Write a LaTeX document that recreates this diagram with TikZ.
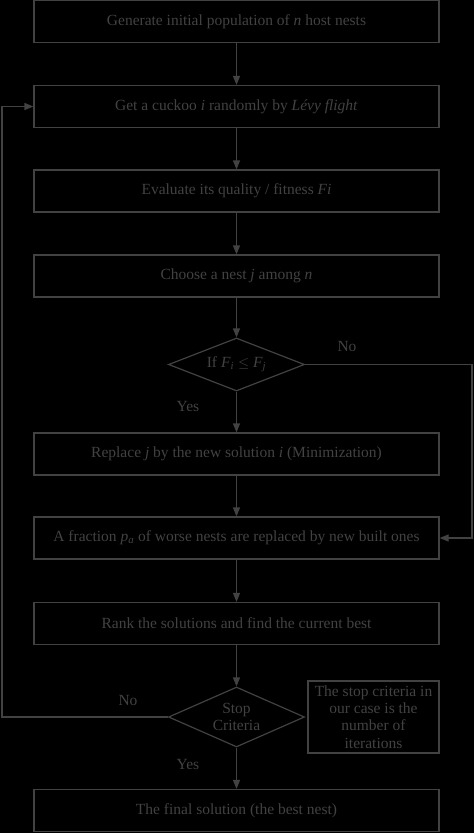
\documentclass[tikz,border=0pt]{standalone}
\usepackage{fontspec}
\setmainfont{Liberation Serif}
\usepackage{amsmath,amssymb}
\usepackage{tikz}
\usetikzlibrary{shapes.geometric}
\usetikzlibrary{arrows.meta}
\definecolor{ink}{gray}{0.26}

\begin{document}
\begin{tikzpicture}[x = 1pt, y = -1pt, ink, line width = 1.2pt,
  font = \fontsize{15.5}{17.3}\selectfont,
  stage/.style = {draw, minimum width = 405pt, minimum height = 42pt, inner sep = 0},
  test/.style = {draw, diamond, aspect = 2.55, minimum width = 136pt, inner sep = 0, align = center},
  flow/.style = {-{Triangle[length = 9pt, width = 7pt]}}]
  \fill[black] (0, 0) rectangle (474, 833);
  \useasboundingbox (0, 0) rectangle (474, 833);
  \node[stage] (init) at (236.5, 21.5) {Generate initial population of \textit{n} host nests};
  \node[stage] (cuckoo) at (236.5, 106.5) {Get a cuckoo \textit{i} randomly by \textit{Lévy flight}};
  \node[stage] (eval) at (236.5, 191) {Evaluate its quality / fitness \textit{Fi}};
  \node[stage] (choose) at (236.5, 276) {Choose a nest \textit{j} among \textit{n}};
  \node[test, minimum height = 53pt] (cmp) at (236.5, 364.5) {If \textit{F}\textsubscript{\textit{i}} $\leq$ \textit{F}\textsubscript{\textit{j}}};
  \node[stage] (replace) at (236.5, 454) {Replace \textit{j} by the new solution \textit{i} (Minimization)};
  \node[stage] (frac) at (236.5, 538) {A fraction \textit{p}\textsubscript{\textit{a}} of worse nests are replaced by new built ones};
  \node[stage] (rank) at (236.5, 623.5) {Rank the solutions and find the current best};
  \node[test, minimum height = 60pt] (stop) at (236.5, 717) {Stop\\Criteria};
  \node[draw, minimum width = 131pt, minimum height = 72pt, inner sep = 0, align = center] (note) at (373.5, 717)
        {The stop criteria in\\our case is the\\number of\\iterations};
  \node[stage] (final) at (236.5, 810.5) {The final solution (the best nest)};
  % main line
  \foreach\a/\b in {init/cuckoo, cuckoo/eval, eval/choose, choose/cmp, cmp/replace,
                    replace/frac, frac/rank, rank/stop, stop/final}{
  \draw[flow] (\a) -- (\b);
  }
  % branches
  \coordinate (noR) at (472, 364.5);
  \coordinate (noL) at (2, 717);
  \draw[flow] (cmp.east) -- (noR) |- (frac.east);
  \draw[flow] (stop.west) -- (noL) |- (cuckoo.west);
  \node at (347, 346) {No};
  \node at (188, 406) {Yes};
  \node at (128, 700) {No};
  \node at (188, 764) {Yes};
\end{tikzpicture}
\end{document}
